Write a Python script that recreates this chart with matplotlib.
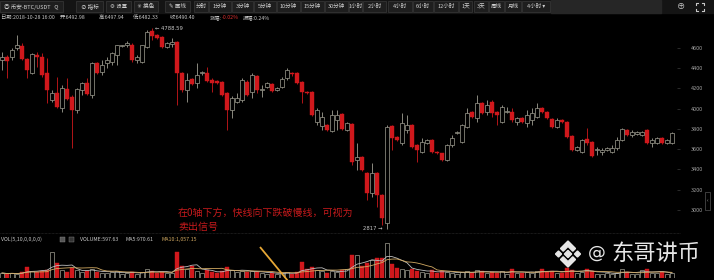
import matplotlib
matplotlib.use("Agg")
import matplotlib.pyplot as plt
import numpy as np
import pandas as pd
from matplotlib.patches import Rectangle, Polygon

plt.rcParams['font.family'] = ['Noto Sans CJK SC', 'DejaVu Sans']

# ---- data (4h BTC/USDT candles) ----
opens = [4478, 4508, 4508, 4596, 4616, 4488, 4350, 4527, 4508, 4350,
         4084, 4153, 4005, 4192, 4114, 3986, 4183, 4251, 4133, 4448,
         4360, 4448, 4458, 4527, 4616, 4626, 4626, 4478, 4458, 4606,
         4764, 4724, 4704, 4606, 4636, 4655, 4350, 4183, 4291, 4251,
         4350, 4350, 4281, 4271, 4261, 4153, 3986, 4064, 4084, 4261,
         4163, 4320, 4183, 4212, 4242, 4183, 4212, 4301, 4350, 4350,
         4261, 4163, 4163, 3867, 3828, 3838, 3779, 3887, 3946, 3789,
         3848, 3493, 3523, 3365, 3168, 3365, 3148, 2873, 3828, 3720,
         3660, 3789, 3838, 3641, 3572, 3660, 3690, 3572, 3562, 3493,
         3641, 3759, 3670, 3818, 3966, 3907, 4055, 3966, 4064, 3966,
         3867, 3966, 3966, 3867, 3907, 3858, 3887, 3916, 4005, 3966,
         3897, 3818, 3887, 3867, 3730, 3592, 3572, 3700, 3670, 3592,
         3572, 3592, 3572, 3611, 3690, 3789, 3739, 3749, 3739, 3789,
         3660, 3660, 3710, 3660, 3660]
closes = [4508, 4468, 4577, 4626, 4488, 4380, 4537, 4508, 4330, 4183,
          4153, 4015, 4202, 4094, 3986, 4192, 4251, 4143, 4448, 4350,
          4429, 4478, 4547, 4626, 4620, 4645, 4478, 4508, 4626, 4754,
          4714, 4694, 4606, 4645, 4655, 4350, 4183, 4281, 4242, 4330,
          4355, 4271, 4251, 4251, 4133, 3986, 4104, 4104, 4281, 4133,
          4330, 4183, 4190, 4251, 4173, 4202, 4291, 4380, 4340, 4251,
          4163, 4153, 3936, 3986, 3916, 3789, 3936, 3936, 3798, 3858,
          3473, 3523, 3395, 3168, 3365, 3148, 2922, 3818, 3710, 3690,
          3858, 3838, 3621, 3592, 3670, 3690, 3572, 3562, 3493, 3641,
          3710, 3764, 3838, 3956, 3916, 4055, 3956, 4035, 3956, 3936,
          4015, 3971, 3887, 3907, 3867, 3936, 3956, 4005, 3966, 3907,
          3818, 3887, 3867, 3720, 3592, 3621, 3690, 3660, 3532, 3597,
          3592, 3611, 3611, 3690, 3799, 3739, 3769, 3769, 3769, 3660,
          3690, 3710, 3660, 3690, 3759]
highs = [4557, 4527, 4596, 4724, 4645, 4498, 4547, 4557, 4547, 4498,
         4183, 4310, 4232, 4301, 4133, 4202, 4261, 4301, 4458, 4458,
         4478, 4508, 4557, 4626, 4626, 4665, 4645, 4527, 4626, 4773,
         4788.59, 4734, 4714, 4655, 4694, 4665, 4360, 4350, 4301, 4448,
         4370, 4409, 4301, 4281, 4271, 4163, 4123, 4153, 4301, 4281,
         4350, 4330, 4232, 4261, 4251, 4212, 4310, 4399, 4360, 4360,
         4271, 4168, 4173, 4005, 3966, 3848, 3986, 3986, 3956, 3868,
         3858, 3660, 3533, 3375, 3463, 3375, 3158, 3838, 3838, 3730,
         3956, 3936, 3848, 3651, 3710, 3700, 3700, 3577, 3567, 3651,
         3739, 3779, 3848, 4005, 3976, 4133, 4064, 4084, 4084, 3976,
         4035, 4015, 4005, 3916, 3916, 3986, 4005, 4055, 4015, 3976,
         3907, 3907, 3897, 3877, 3739, 3631, 3700, 3808, 3680, 3621,
         3611, 3621, 3641, 3720, 3808, 3799, 3789, 3779, 3779, 3799,
         3710, 3720, 3720, 3700, 3769]
lows = [4379, 4301, 4478, 4577, 4478, 4301, 4340, 4409, 4310, 4055,
        4064, 4005, 3966, 4084, 3611, 3956, 4133, 4133, 4104, 4340,
        4330, 4399, 4429, 4429, 4606, 4606, 4458, 4448, 4448, 4596,
        4675, 4680, 4596, 4596, 4606, 4035, 4163, 4064, 4232, 4202,
        4330, 4261, 4163, 4242, 4123, 3789, 3907, 4055, 4064, 4123,
        4104, 4153, 4114, 4202, 4163, 4173, 4202, 4281, 4320, 4242,
        4055, 4148, 3926, 3838, 3789, 3779, 3769, 3789, 3789, 3779,
        3444, 3395, 3385, 3099, 3129, 3030, 2853, 2817, 3592, 3680,
        3641, 3759, 3611, 3473, 3562, 3651, 3562, 3557, 3483, 3483,
        3621, 3749, 3660, 3808, 3907, 3867, 3946, 3936, 3916, 3838,
        3858, 3956, 3867, 3838, 3858, 3818, 3838, 3907, 3956, 3897,
        3808, 3808, 3858, 3710, 3582, 3582, 3562, 3641, 3523, 3542,
        3542, 3582, 3562, 3592, 3680, 3730, 3720, 3739, 3730, 3651,
        3621, 3651, 3651, 3651, 3651]
volumes = [625, 500, 625, 500, 750, 1375, 875, 750, 875, 1000,
           3250, 1875, 1000, 750, 1250, 1000, 750, 875, 1125, 750,
           625, 625, 750, 875, 500, 625, 750, 500, 750, 1125,
           875, 625, 750, 625, 625, 3250, 1500, 1125, 1500, 875,
           625, 1000, 750, 625, 875, 1375, 1000, 750, 875, 750,
           875, 750, 625, 500, 625, 500, 625, 750, 500, 750,
           2000, 1125, 1375, 1000, 875, 625, 875, 750, 1000, 1125,
           2875, 2875, 1500, 1875, 2250, 2500, 2500, 4375, 1750, 1250,
           1125, 1000, 1125, 875, 750, 625, 1000, 625, 875, 750,
           625, 500, 750, 875, 625, 1000, 875, 625, 750, 625,
           875, 500, 1125, 625, 625, 750, 625, 875, 1125, 750,
           875, 625, 625, 1250, 1000, 625, 750, 1125, 875, 500,
           500, 625, 500, 625, 1125, 750, 500, 500, 1000, 1125,
           625, 625, 750, 500, 625]

price_ticks = [3000, 3200, 3400, 3600, 3800, 4000, 4200, 4400, 4600]
high_label = "← 4788.59"
low_label = "2817 →"

toolbar_buttons = ["◎ 币安-BTC/USDT   Q", "⊘ 指标", "⚙ 设置", "☼ 换色", "✎ 画线",
                   "分时", "1分钟", "3分钟", "5分钟", "10分钟", "15分钟", "30分钟",
                   "1小时", "2小时", "4小时", "6小时", "12小时", "1天", "3天",
                   "周线", "月线", "4小时 ▾"]
toolbar_edges = [0, 63, 76, 103, 106, 131, 134, 158, 165, 190, 194, 208, 209, 231,
                 232, 253, 254, 276, 277, 300, 301, 324, 325, 348, 349, 362, 363, 386,
                 388, 412, 413, 433, 434, 458, 459, 472, 474, 488, 489, 504, 505, 521,
                 522, 550]

RED = '#d0181c'
GREY = '#a09f92'

o = np.array(opens, float)
c = np.array(closes, float)
h = np.array(highs, float)
l = np.array(lows, float)
v = np.array(volumes, float)
idx = np.arange(len(o))
up = c >= o

fig = plt.figure(figsize=(7.14, 2.80), dpi=100, facecolor='black')

# ---- price panel ----
ax = fig.add_axes([0, 48 / 280, 680 / 714, 212 / 280], facecolor='black')
ax.vlines(idx, l, h, colors=np.where(up, GREY, RED), linewidth=0.6, zorder=2)
body_h = np.maximum(np.abs(c - o), 8)
body_b = np.minimum(o, c)
ax.bar(idx[~up], body_h[~up], bottom=body_b[~up], width=0.72,
       color=RED, edgecolor=RED, linewidth=0.3, zorder=3)
ax.bar(idx[up], body_h[up], bottom=body_b[up], width=0.72,
       color='black', edgecolor=GREY, linewidth=0.5, zorder=3)
ax.set_xlim(-0.4, 135.6)
ax.set_ylim(2784, 4872)
ax.set_yticks(price_ticks)
ax.set_yticklabels([str(t) for t in price_ticks])
ax.yaxis.tick_right()
ax.tick_params(axis='y', colors='#3c3c3c', labelcolor='#a0a0a0', labelsize=4,
               length=2, width=0.5, direction='in', pad=8)
ax.set_xticks([])
for s in ax.spines.values():
    s.set_visible(False)

imax = int(np.argmax(h))
imin = int(np.argmin(l))
ax.annotate(high_label, (imax, h[imax]), xytext=(2, 0), textcoords='offset points',
            fontsize=3.8, color='#c8c8c8', va='center', ha='left', family='DejaVu Sans')
ax.annotate(low_label, (imin, l[imin]), xytext=(-3, 0), textcoords='offset points',
            fontsize=3.8, color='#c8c8c8', va='center', ha='right', family='DejaVu Sans')

# ---- volume panel ----
axv = fig.add_axes([0, 2 / 280, 680 / 714, 40 / 280], facecolor='black')
axv.bar(idx[~up], v[~up], width=0.72, color=RED, edgecolor=RED, linewidth=0.3)
axv.bar(idx[up], v[up], width=0.72, color='black', edgecolor=GREY, linewidth=0.5)
ma5 = pd.Series(v).rolling(5, min_periods=1).mean()
ma10 = pd.Series(v).rolling(10, min_periods=1).mean()
axv.plot(idx, ma5, color='#bdbdbd', linewidth=0.6)
axv.plot(idx, ma10, color='#d2aa62', linewidth=0.6)
axv.set_xlim(-0.4, 135.6)
axv.set_ylim(0, 5000)
axv.axis('off')

# ---- overlay in pixel coordinates ----
ov = fig.add_axes([0, 0, 1, 1], zorder=10)
ov.set_xlim(0, 714)
ov.set_ylim(280, 0)
ov.axis('off')
ov.patch.set_alpha(0)

# toolbar
ov.add_patch(Rectangle((0, 0), 714, 13, color='#141414'))
ov.add_patch(Rectangle((551, 0), 110, 13, color='#262626'))
for i, lab in enumerate(toolbar_buttons):
    x0, x1 = toolbar_edges[2 * i], toolbar_edges[2 * i + 1]
    ov.add_patch(Rectangle((x0, 0.5), x1 - x0, 11.5, facecolor='#1e1e1e',
                           edgecolor='#3a3a3a', linewidth=0.5))
    ov.text((x0 + x1) / 2, 6.5, lab, fontsize=4, color='#d0d0d0', ha='center', va='center')
ov.text(681, 6.5, "⊕", fontsize=6, color='#c8c8c8', ha='center', va='center')
# fullscreen icon: four corner brackets
for sx in (-1, 1):
    for sy in (-1, 1):
        xc, yc = 700 + sx * 4, 6.5 + sy * 4
        ov.plot([xc, xc, xc - sx * 2], [yc - sy * 2, yc, yc], color='#c8c8c8', lw=0.8)

# info row
info = [("日期:2018-10-28 16:00", 1, '#c8c8c8'), ("开:6492.98", 60, '#c8c8c8'),
        ("高:6497.94", 99, '#c8c8c8'), ("低:6482.33", 133, '#c8c8c8'),
        ("收:6490.40", 170, '#c8c8c8'), ("涨幅:", 210, '#c8c8c8'),
        ("-0.02%", 222, '#e03030'), ("振幅:0.24%", 243, '#c8c8c8')]
for txt, x, col in info:
    ov.text(x, 17.5, txt, fontsize=3.8, color=col, ha='left', va='center')

# separators and volume header
ov.plot([0, 680], [233, 233], color='#333333', linewidth=0.5, linestyle=(0, (1, 1)))
vol_hdr = [("VOL(5,10,0,0,0,0)", 1, '#c8c8c8'), ("VOLUME:597.63", 80, '#c8c8c8'),
           ("MA5:970.61", 126, '#c8c8c8'), ("MA10:1,057.15", 161, '#d2aa62')]
for txt, x, col in vol_hdr:
    ov.text(x, 239.5, txt, fontsize=3.8, color=col, ha='left', va='center')
ov.add_patch(Rectangle((60, 236.5), 5, 5, facecolor='#555555', edgecolor='#888888', lw=0.3))
ov.add_patch(Rectangle((69, 236.5), 5, 5, facecolor='#333333', edgecolor='#888888', lw=0.3))

# scroll handle on the right
ov.add_patch(Rectangle((705, 192), 5, 18, facecolor='none', edgecolor='#555555', lw=0.5))
ov.text(707.5, 201, "‹", fontsize=4, color='#aaaaaa', ha='center', va='center')

# annotation
ov.text(178, 213, "在0轴下方，快线向下跌破慢线，可视为", fontsize=7.2, color='#c41a1c',
        ha='left', va='center')
ov.text(178, 227, "卖出信号", fontsize=7.2, color='#c41a1c', ha='left', va='center')

# yellow pointer line
ov.plot([260, 288], [247, 281], color='#e6a736', linewidth=1.3, solid_capstyle='butt')

# watermark: logo + text
cx, cy = 568, 254
wm = '#e6e6e6'
def diamond(x, y, r):
    return Polygon([(x, y - r), (x + r, y), (x, y + r), (x - r, y)], closed=True, color=wm)
ov.add_patch(diamond(cx, cy, 3.6))
ov.add_patch(diamond(cx - 9.5, cy, 3.0))
ov.add_patch(diamond(cx + 9.5, cy, 3.0))
ov.add_patch(Polygon([(cx, cy - 13), (cx + 7.5, cy - 5.5), (cx + 4.8, cy - 2.8), (cx, cy - 7.6),
                      (cx - 4.8, cy - 2.8), (cx - 7.5, cy - 5.5)], closed=True, color=wm))
ov.add_patch(Polygon([(cx, cy + 13), (cx + 7.5, cy + 5.5), (cx + 4.8, cy + 2.8), (cx, cy + 7.6),
                      (cx - 4.8, cy + 2.8), (cx - 7.5, cy + 5.5)], closed=True, color=wm))
ov.text(597, 253, "@", fontsize=13, color=wm, ha='center', va='center', family='DejaVu Sans')
ov.text(611, 253, "东哥讲币", fontsize=16, color=wm, ha='left', va='center')

fig.savefig("out.png", dpi=100, facecolor='black')
